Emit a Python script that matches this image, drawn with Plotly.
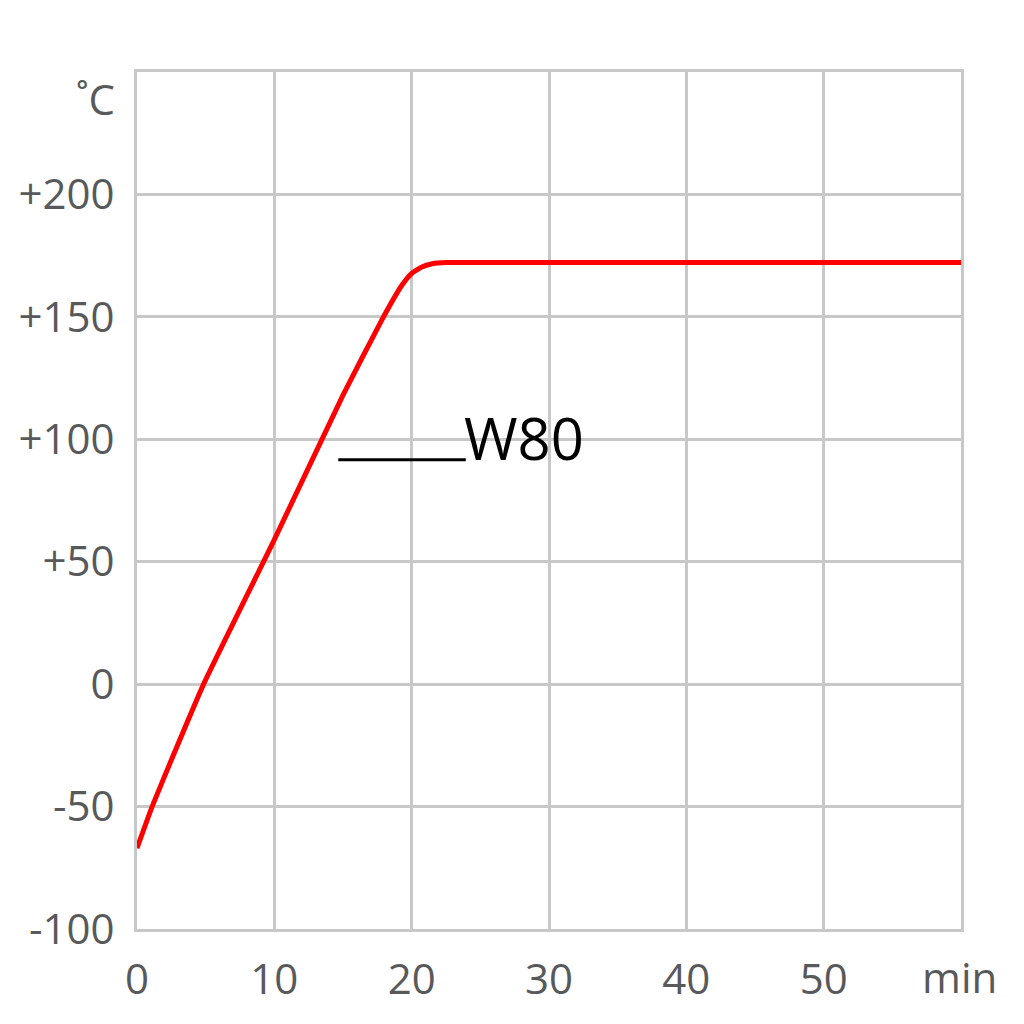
import plotly.graph_objects as go

# Heating curve (time in min, temperature in °C)
time_min = [0, 1.1, 2.5, 4.85, 10, 15, 17.85, 19.3, 20, 20.7, 21.5, 22.5, 23.5, 60]
temp_c = [-67, -50, -31, 0, 59, 118, 149, 163, 167.8, 170.3, 171.7, 172.2, 172.2, 172.2]

x_ticks = [0, 10, 20, 30, 40, 50]
y_ticks = [-100, -50, 0, 50, 100, 150, 200]
y_labels = ["-100", "-50", "0", "+50", "+100", "+150", "+200"]

grid = "#c8c8c8"
label_color = "#58595b"
font_family = "Open Sans, Noto Sans, sans-serif"

fig = go.Figure()
fig.add_trace(go.Scatter(
    x=time_min,
    y=temp_c,
    mode="lines",
    line=dict(color="#ff0000", width=5, shape="spline", smoothing=0.4),
    name="W80",
    showlegend=False,
))

# legend-like label: black dash + text
fig.add_shape(type="line", xref="paper", yref="paper",
              x0=(337 - 135) / 827, x1=(465 - 135) / 827,
              y0=(930 - 459) / 860, y1=(930 - 459) / 860,
              line=dict(color="black", width=3))
fig.add_annotation(text="W80", xref="paper", yref="paper",
                   x=(461 - 135) / 827, y=(930 - 437) / 860,
                   xanchor="left", yanchor="middle", showarrow=False,
                   font=dict(family=font_family, size=58, color="black"))

# unit labels
fig.add_annotation(text="˚C", xref="paper", yref="paper",
                   x=-20 / 827, y=(930 - 97) / 860,
                   xanchor="right", yanchor="middle", showarrow=False,
                   font=dict(family=font_family, size=42, color=label_color))
fig.add_annotation(text="min", xref="paper", yref="paper",
                   x=(960 - 135) / 827, y=-(978 - 930) / 860,
                   xanchor="center", yanchor="middle", showarrow=False,
                   font=dict(family=font_family, size=42, color=label_color))

fig.update_layout(
    width=1024,
    height=1024,
    margin=dict(l=129, r=71, t=64, b=103),
    paper_bgcolor="white",
    plot_bgcolor="white",
    font=dict(family=font_family, size=42, color=label_color),
    xaxis=dict(
        range=[0, 60],
        tickvals=x_ticks,
        showgrid=True, gridcolor=grid, gridwidth=3,
        showline=True, linecolor=grid, linewidth=3, mirror=True,
        zeroline=False, ticks="", ticklabelstandoff=12, automargin=False,
    ),
    yaxis=dict(
        range=[-100, 250],
        tickvals=y_ticks,
        ticktext=y_labels,
        showgrid=True, gridcolor=grid, gridwidth=3,
        showline=True, linecolor=grid, linewidth=3, mirror=True,
        zeroline=False, ticks="", ticklabelstandoff=11, automargin=False,
    ),
)

fig.write_html("out.html")
